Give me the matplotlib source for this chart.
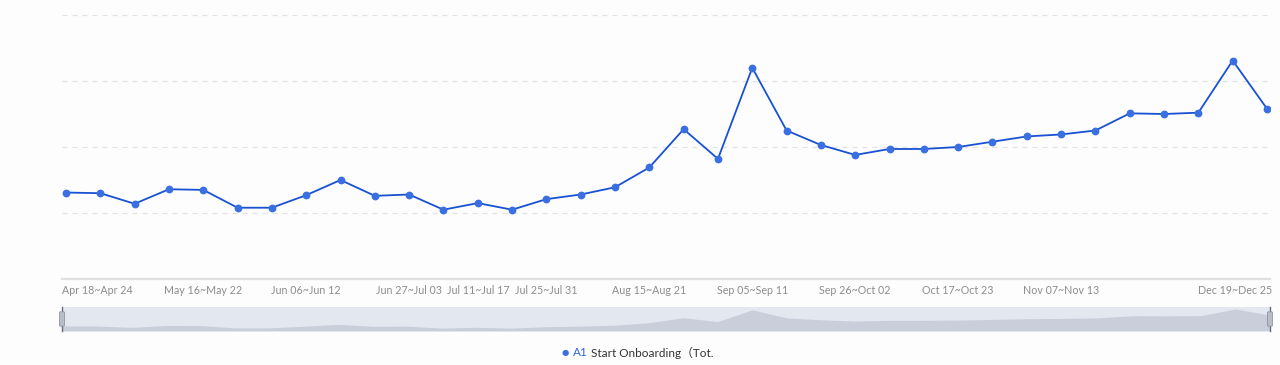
import matplotlib.pyplot as plt
import matplotlib.transforms as mtransforms
import numpy as np
import pandas as pd
from matplotlib.patches import FancyBboxPatch

# weekly values (no y labels in the original, grid step = 1)
values = [1.31, 1.30, 1.14, 1.36, 1.35, 1.08, 1.08, 1.27, 1.50, 1.26, 1.28, 1.05,
          1.15, 1.05, 1.21, 1.28, 1.39, 1.69, 2.27, 1.82, 3.20, 2.25, 2.03, 1.88,
          1.97, 1.97, 2.00, 2.08, 2.16, 2.19, 2.25, 2.51, 2.50, 2.52, 3.31, 2.58]
starts = pd.date_range('2022-04-18', periods=36, freq='7D')
weeks = [s.strftime('%b %d') + '~' + (s + pd.Timedelta(days=6)).strftime('%b %d') for s in starts]
shown = [0, 4, 7, 10, 12, 14, 17, 20, 23, 26, 29, 35]
series_code = 'A1'
series_name = 'Start Onboarding（Tot.'

line_col = '#1852d2'
dot_col = '#3a6fe2'
W, H = 1280, 365

fig = plt.figure(figsize=(12.8, 3.65), dpi=100)
fig.patch.set_facecolor('#fdfdfd')

x = np.arange(len(values))
ax = fig.add_axes([62 / W, 1 - 279 / H, (1270 - 62) / W, (279 - 15) / H])
ax.set_facecolor('#fdfdfd')
ax.plot(x, values, color=line_col, lw=1.3, marker='o', ms=4.6,
        mfc=dot_col, mec=dot_col, zorder=3)
step = (1267 - 66) / 35
ax.set_xlim(-4 / step, 35 + 3 / step)
ax.set_ylim(0, 4)
for g in [1, 2, 3, 4]:
    ax.axhline(g, color='#e2e2e2', lw=0.9, ls=(0, (4, 4)), zorder=1)
ax.axhline(0, color='#e0e0e0', lw=1.6, zorder=2, clip_on=False)
for s in ax.spines.values():
    s.set_visible(False)
ax.set_yticks([])
ax.set_xticks([x[i] for i in shown])
ax.set_xticklabels([weeks[i] for i in shown], fontsize=7.7, color='#8c8c8c', family='Lato')
ax.tick_params(axis='x', length=0, pad=4)
lbls = ax.get_xticklabels()
lbls[0].set_horizontalalignment('left')
lbls[0].set_transform(lbls[0].get_transform() +
                      mtransforms.ScaledTranslation(-4 / 100, 0, fig.dpi_scale_trans))
lbls[-1].set_horizontalalignment('right')
lbls[-1].set_transform(lbls[-1].get_transform() +
                       mtransforms.ScaledTranslation(5 / 100, 0, fig.dpi_scale_trans))

# data zoom slider
sl = fig.add_axes([62 / W, 1 - 331 / H, (1270 - 62) / W, (331 - 307) / H])
sl.set_facecolor('#e3e7f0')
v = np.array(values)
vmin, vmax = v.min(), v.max()
shadow = 0.12 + (v - vmin) / (vmax - vmin) * 0.8
sl.fill_between(x, 0, shadow, color='#c9ceda', lw=0)
sl.set_xlim(0, 35)
sl.set_ylim(0, 1)
sl.set_xticks([])
sl.set_yticks([])
for s in sl.spines.values():
    s.set_visible(False)
for hx in [0, 35]:
    sl.plot([hx, hx], [0, 1], color='#666b75', lw=1.0, clip_on=False, zorder=4)
    sl.add_patch(FancyBboxPatch((hx - 0.07, 0.2), 0.14, 0.6,
                                boxstyle='round,pad=0.0,rounding_size=0.03',
                                fc='#b8bdc8', ec='#8e939d', lw=0.6, clip_on=False, zorder=5))

# legend
fig.text(565 / W, 1 - 353 / H, '●', color=dot_col, fontsize=6, ha='center', va='center')
fig.text(573 / W, 1 - 353 / H, series_code, color='#2f66dd', fontsize=8.5,
         family='Lato', ha='left', va='center')
fig.text(591 / W, 1 - 353 / H, series_name, color='#333333', fontsize=8.5,
         family=['Lato', 'Noto Sans CJK SC'], ha='left', va='center')

fig.savefig('out.png', dpi=100, facecolor=fig.get_facecolor())
